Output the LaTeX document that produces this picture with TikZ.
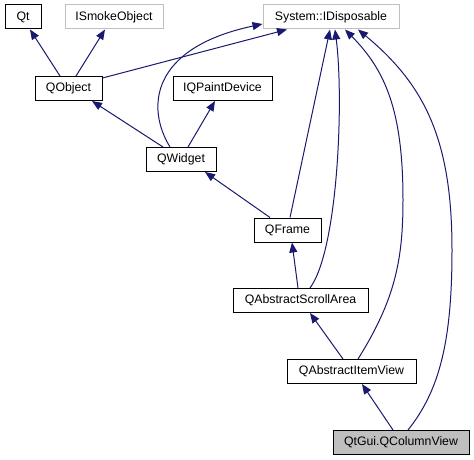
\documentclass[tikz,border=0pt]{standalone}
\usepackage{fontspec}
\setmainfont{Liberation Sans}
\usetikzlibrary{arrows.meta}
\definecolor{edgeblue}{HTML}{191970}
\definecolor{lightborder}{HTML}{BFBFBF}
\definecolor{mainfill}{HTML}{BFBFBF}
\begin{document}
\begin{tikzpicture}[x=1pt,y=-1pt,
  cls/.style={draw=black,line width=1pt,rectangle,inner sep=0pt,minimum height=24pt,
    align=center,font=\fontsize{12.3}{14}\selectfont,text=black},
  ext/.style={cls,draw=lightborder},
  mainbox/.style={cls,fill=mainfill},
  edge/.style={draw=edgeblue,line width=1pt,-{Triangle[length=10pt,width=8pt]}}]
\useasboundingbox[fill=white] (0,0) rectangle (474,460);
\node[cls,minimum width=36pt] (qt) at (23,17) {Qt};
\node[ext,minimum width=98pt] (ismoke) at (114,17) {ISmokeObject};
\node[ext,minimum width=136pt] (idisp) at (331,17) {System::IDisposable};
\node[cls,minimum width=67pt] (qobject) at (68.5,88.5) {QObject};
\node[cls,minimum width=99pt] (iqpaint) at (222.5,88.5) {IQPaintDevice};
\node[cls,minimum width=70pt] (qwidget) at (181,159.5) {QWidget};
\node[cls,minimum width=67pt] (qframe) at (287.5,230) {QFrame};
\node[cls,minimum width=135pt] (qasa) at (300.5,300.5) {QAbstractScrollArea};
\node[cls,minimum width=129pt] (qaiv) at (351.5,371.5) {QAbstractItemView};
\node[mainbox,minimum width=136pt] (qcv) at (401,442.5) {QtGui.QColumnView};

\draw[edge] ([xshift=-8.5pt]qobject.north) -- ([xshift=7pt]qt.south);
\draw[edge] ([xshift=7.5pt]qobject.north) -- ([xshift=-9pt]ismoke.south);
\draw[edge] ([yshift=-2pt]qobject.north east) -- ([xshift=-44pt]idisp.south);
\draw[edge] ([xshift=-18pt]qwidget.north) -- ([xshift=23.5pt]qobject.south);
\draw[edge] ([xshift=7pt]qwidget.north) -- ([xshift=-7.5pt]iqpaint.south);
\draw[edge] ([xshift=-11pt]qwidget.north) .. controls (146,108) and (150,48) .. ([yshift=-7pt]idisp.west);
\draw[edge] ([xshift=-17.5pt]qframe.north) -- ([xshift=24pt]qwidget.south);
\draw[edge] ([xshift=2.5pt]qframe.north) -- ([xshift=-1pt]idisp.south);
\draw[edge] ([xshift=-2.5pt]qasa.north) -- ([xshift=4.5pt]qframe.south);
\draw[edge] ([xshift=9.5pt]qasa.north) .. controls (338,250) and (344,100) .. ([xshift=4pt]idisp.south);
\draw[edge] ([xshift=6.5pt]qaiv.north) .. controls (395,300) and (403,260) .. (403,200)
  .. controls (403,110) and (385,70) .. ([xshift=14pt]idisp.south);
\draw[edge] ([xshift=-8.5pt]qaiv.north) -- ([xshift=9.5pt]qasa.south);
\draw[edge] ([xshift=-8pt]qcv.north) -- ([xshift=10.5pt]qaiv.south);
\draw[edge] ([xshift=7pt]qcv.north) .. controls (440,390) and (452,340) .. (452,250)
  .. controls (452,140) and (425,85) .. ([xshift=27pt]idisp.south);
\end{tikzpicture}
\end{document}
